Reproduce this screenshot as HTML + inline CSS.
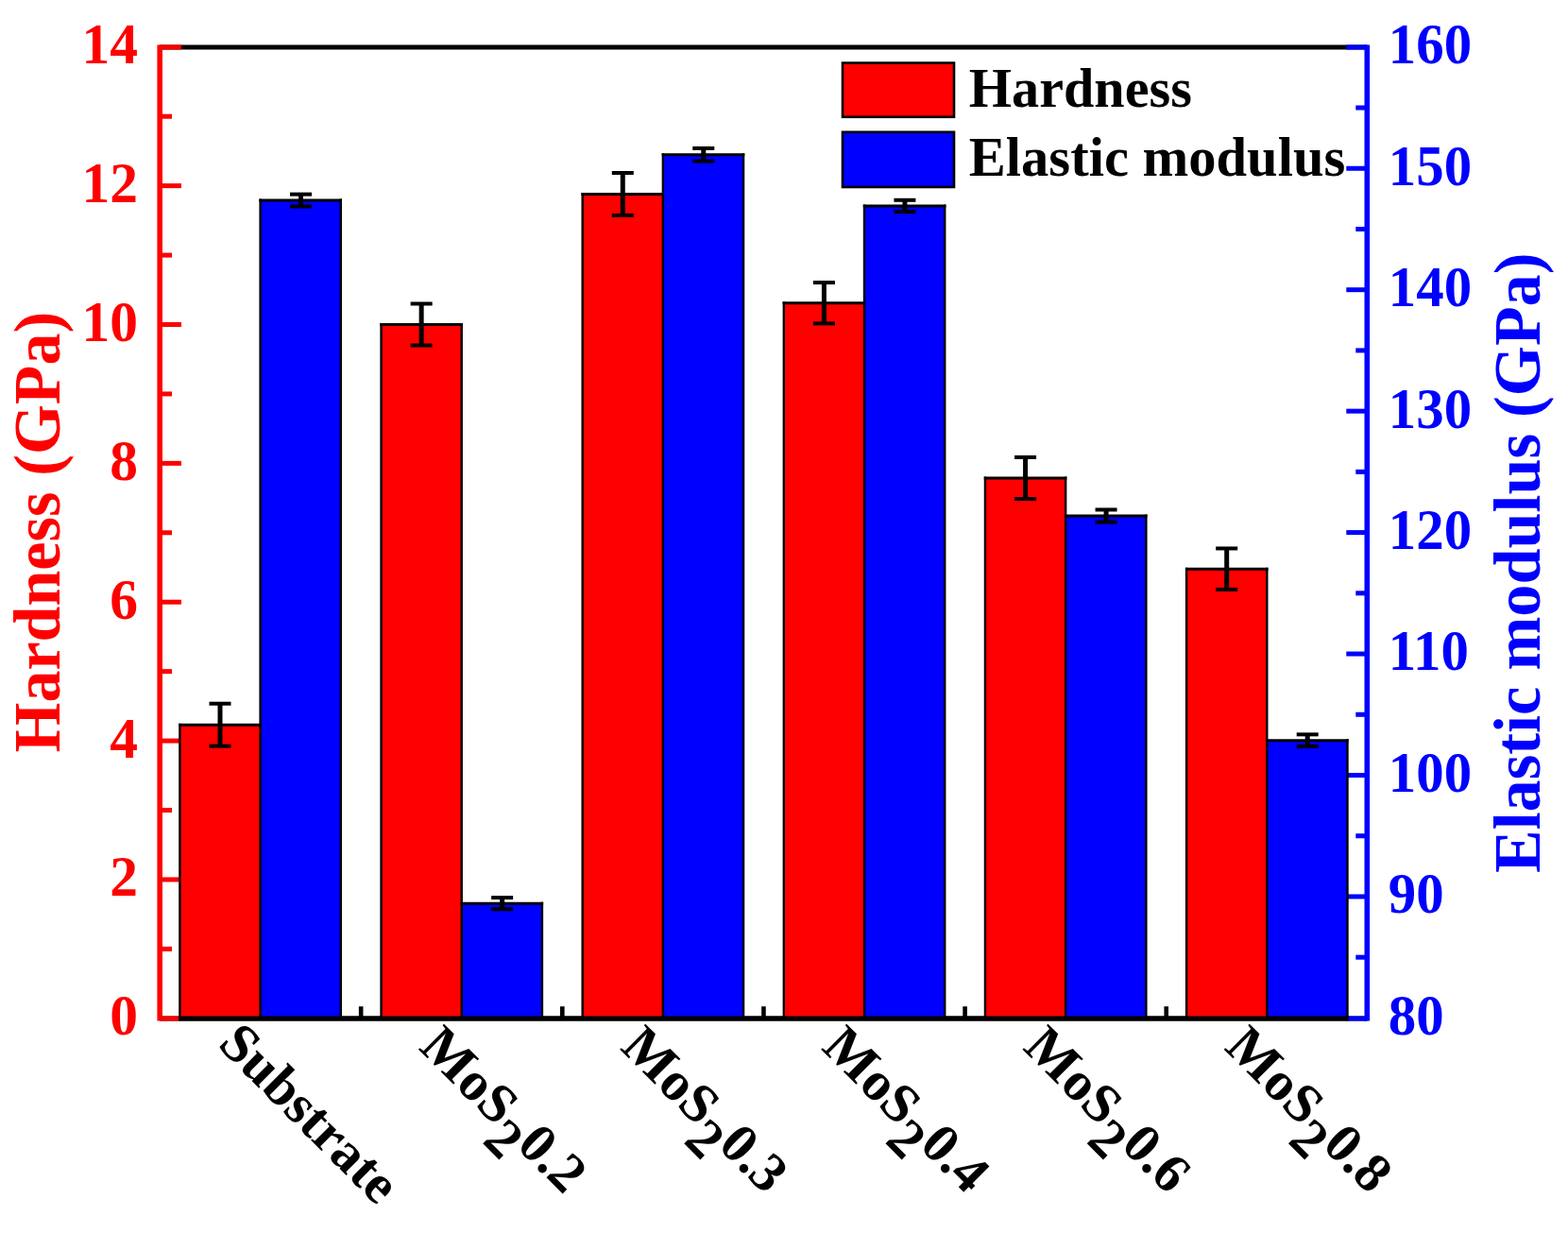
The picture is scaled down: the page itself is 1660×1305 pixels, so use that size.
<!DOCTYPE html>
<html lang="en"><head><meta charset="utf-8"><title>Hardness and elastic modulus</title>
<style>html,body{margin:0;padding:0;background:#fff;}body{width:1660px;height:1305px;overflow:hidden;}svg{display:block;}text{font-family:"Liberation Serif","DejaVu Serif",serif;font-weight:bold;}</style>
</head><body>
<svg width="1660" height="1305" viewBox="0 0 1660 1305" role="img" aria-label="Bar chart of hardness and elastic modulus">
<rect x="0" y="0" width="1660" height="1305" fill="#fff"/>
<g stroke="#000" stroke-width="5" fill="none">
<line x1="169.2" y1="50" x2="1447.3" y2="50"/>
<line x1="169.2" y1="1078" x2="1447.3" y2="1078"/>
</g>
<g stroke="#000" stroke-width="4.6" fill="none">
<line x1="382.17" y1="1065.2" x2="382.17" y2="1078"/>
<line x1="595.31" y1="1065.2" x2="595.31" y2="1078"/>
<line x1="808.45" y1="1065.2" x2="808.45" y2="1078"/>
<line x1="1021.59" y1="1065.2" x2="1021.59" y2="1078"/>
<line x1="1234.73" y1="1065.2" x2="1234.73" y2="1078"/>
</g>
<g stroke="#f00" fill="none">
<line x1="169.2" y1="47.5" x2="169.2" y2="1080.5" stroke-width="5.6"/>
<line x1="169.2" y1="1078" x2="192" y2="1078" stroke-width="5"/>
<line x1="169.2" y1="1004.37" x2="182" y2="1004.37" stroke-width="5"/>
<line x1="169.2" y1="930.94" x2="192" y2="930.94" stroke-width="5"/>
<line x1="169.2" y1="857.51" x2="182" y2="857.51" stroke-width="5"/>
<line x1="169.2" y1="784.08" x2="192" y2="784.08" stroke-width="5"/>
<line x1="169.2" y1="710.65" x2="182" y2="710.65" stroke-width="5"/>
<line x1="169.2" y1="637.22" x2="192" y2="637.22" stroke-width="5"/>
<line x1="169.2" y1="563.79" x2="182" y2="563.79" stroke-width="5"/>
<line x1="169.2" y1="490.36" x2="192" y2="490.36" stroke-width="5"/>
<line x1="169.2" y1="416.93" x2="182" y2="416.93" stroke-width="5"/>
<line x1="169.2" y1="343.5" x2="192" y2="343.5" stroke-width="5"/>
<line x1="169.2" y1="270.07" x2="182" y2="270.07" stroke-width="5"/>
<line x1="169.2" y1="196.64" x2="192" y2="196.64" stroke-width="5"/>
<line x1="169.2" y1="123.21" x2="182" y2="123.21" stroke-width="5"/>
<line x1="169.2" y1="50" x2="192" y2="50" stroke-width="5"/>
</g>
<g stroke="#00f" fill="none">
<line x1="1447.3" y1="47.5" x2="1447.3" y2="1080.5" stroke-width="5.6"/>
<line x1="1447.3" y1="1078" x2="1425.3" y2="1078" stroke-width="5"/>
<line x1="1447.3" y1="1013.17" x2="1435.3" y2="1013.17" stroke-width="5"/>
<line x1="1447.3" y1="948.95" x2="1425.3" y2="948.95" stroke-width="5"/>
<line x1="1447.3" y1="884.73" x2="1435.3" y2="884.73" stroke-width="5"/>
<line x1="1447.3" y1="820.5" x2="1425.3" y2="820.5" stroke-width="5"/>
<line x1="1447.3" y1="756.27" x2="1435.3" y2="756.27" stroke-width="5"/>
<line x1="1447.3" y1="692.05" x2="1425.3" y2="692.05" stroke-width="5"/>
<line x1="1447.3" y1="627.82" x2="1435.3" y2="627.82" stroke-width="5"/>
<line x1="1447.3" y1="563.6" x2="1425.3" y2="563.6" stroke-width="5"/>
<line x1="1447.3" y1="499.38" x2="1435.3" y2="499.38" stroke-width="5"/>
<line x1="1447.3" y1="435.15" x2="1425.3" y2="435.15" stroke-width="5"/>
<line x1="1447.3" y1="370.92" x2="1435.3" y2="370.92" stroke-width="5"/>
<line x1="1447.3" y1="306.7" x2="1425.3" y2="306.7" stroke-width="5"/>
<line x1="1447.3" y1="242.47" x2="1435.3" y2="242.47" stroke-width="5"/>
<line x1="1447.3" y1="178.25" x2="1425.3" y2="178.25" stroke-width="5"/>
<line x1="1447.3" y1="114.02" x2="1435.3" y2="114.02" stroke-width="5"/>
<line x1="1447.3" y1="50" x2="1425.3" y2="50" stroke-width="5"/>
</g>
<g><rect x="190.4" y="767.19" width="85.2" height="310.31" fill="#f00"/>
<rect x="275.6" y="212.05" width="85.2" height="865.45" fill="#00f"/>
<rect x="403.54" y="343.5" width="85.2" height="734" fill="#f00"/>
<rect x="488.74" y="956.16" width="85.2" height="121.34" fill="#00f"/>
<rect x="616.68" y="205.45" width="85.2" height="872.05" fill="#f00"/>
<rect x="701.88" y="163.75" width="85.2" height="913.75" fill="#00f"/>
<rect x="829.82" y="320.74" width="85.2" height="756.76" fill="#f00"/>
<rect x="915.02" y="217.96" width="85.2" height="859.54" fill="#00f"/>
<rect x="1042.96" y="506" width="85.2" height="571.5" fill="#f00"/>
<rect x="1128.16" y="546.02" width="85.2" height="531.48" fill="#00f"/>
<rect x="1256.1" y="602.19" width="85.2" height="475.31" fill="#f00"/>
<rect x="1341.3" y="783.65" width="85.2" height="293.85" fill="#00f"/></g>
<g stroke="#000" stroke-width="2.4" fill="none"><line x1="190.4" y1="765.69" x2="190.4" y2="1077.5"/>
<line x1="275.6" y1="210.55" x2="275.6" y2="1077.5"/>
<line x1="360.8" y1="210.55" x2="360.8" y2="1077.5"/>
<line x1="403.54" y1="342" x2="403.54" y2="1077.5"/>
<line x1="488.74" y1="342" x2="488.74" y2="1077.5"/>
<line x1="573.94" y1="954.66" x2="573.94" y2="1077.5"/>
<line x1="616.68" y1="203.95" x2="616.68" y2="1077.5"/>
<line x1="701.88" y1="162.25" x2="701.88" y2="1077.5"/>
<line x1="787.08" y1="162.25" x2="787.08" y2="1077.5"/>
<line x1="829.82" y1="319.24" x2="829.82" y2="1077.5"/>
<line x1="915.02" y1="216.46" x2="915.02" y2="1077.5"/>
<line x1="1000.22" y1="216.46" x2="1000.22" y2="1077.5"/>
<line x1="1042.96" y1="504.5" x2="1042.96" y2="1077.5"/>
<line x1="1128.16" y1="504.5" x2="1128.16" y2="1077.5"/>
<line x1="1213.36" y1="544.52" x2="1213.36" y2="1077.5"/>
<line x1="1256.1" y1="600.69" x2="1256.1" y2="1077.5"/>
<line x1="1341.3" y1="600.69" x2="1341.3" y2="1077.5"/>
<line x1="1426.5" y1="782.15" x2="1426.5" y2="1077.5"/></g>
<g stroke="#000" stroke-width="3" fill="none"><line x1="189.2" y1="767.19" x2="276.8" y2="767.19"/>
<line x1="274.4" y1="212.05" x2="362" y2="212.05"/>
<line x1="402.34" y1="343.5" x2="489.94" y2="343.5"/>
<line x1="487.54" y1="956.16" x2="575.14" y2="956.16"/>
<line x1="615.48" y1="205.45" x2="703.08" y2="205.45"/>
<line x1="700.68" y1="163.75" x2="788.28" y2="163.75"/>
<line x1="828.62" y1="320.74" x2="916.22" y2="320.74"/>
<line x1="913.82" y1="217.96" x2="1001.42" y2="217.96"/>
<line x1="1041.76" y1="506" x2="1129.36" y2="506"/>
<line x1="1126.96" y1="546.02" x2="1214.56" y2="546.02"/>
<line x1="1254.9" y1="602.19" x2="1342.5" y2="602.19"/>
<line x1="1340.1" y1="783.65" x2="1427.7" y2="783.65"/></g>
<line x1="189.2" y1="1078" x2="1427.7" y2="1078" stroke="#000" stroke-width="5"/>
<g stroke="#000" stroke-width="5" fill="none"><line x1="233" y1="744.72" x2="233" y2="789.66"/>
<line x1="318.5" y1="205.62" x2="318.5" y2="218.47"/>
<line x1="446.14" y1="321.47" x2="446.14" y2="365.53"/>
<line x1="531.64" y1="950.06" x2="531.64" y2="962.26"/>
<line x1="659.28" y1="182.98" x2="659.28" y2="227.92"/>
<line x1="744.78" y1="156.94" x2="744.78" y2="170.56"/>
<line x1="872.42" y1="299.07" x2="872.42" y2="342.4"/>
<line x1="957.92" y1="211.79" x2="957.92" y2="224.12"/>
<line x1="1085.56" y1="483.97" x2="1085.56" y2="528.03"/>
<line x1="1171.06" y1="539.47" x2="1171.06" y2="552.57"/>
<line x1="1298.7" y1="580.46" x2="1298.7" y2="623.93"/>
<line x1="1384.2" y1="777.36" x2="1384.2" y2="789.94"/></g>
<g stroke="#000" stroke-width="4" fill="none"><line x1="221.5" y1="744.72" x2="244.5" y2="744.72"/>
<line x1="221.5" y1="789.66" x2="244.5" y2="789.66"/>
<line x1="307" y1="205.62" x2="330" y2="205.62"/>
<line x1="307" y1="218.47" x2="330" y2="218.47"/>
<line x1="434.64" y1="321.47" x2="457.64" y2="321.47"/>
<line x1="434.64" y1="365.53" x2="457.64" y2="365.53"/>
<line x1="520.14" y1="950.06" x2="543.14" y2="950.06"/>
<line x1="520.14" y1="962.26" x2="543.14" y2="962.26"/>
<line x1="647.78" y1="182.98" x2="670.78" y2="182.98"/>
<line x1="647.78" y1="227.92" x2="670.78" y2="227.92"/>
<line x1="733.28" y1="156.94" x2="756.28" y2="156.94"/>
<line x1="733.28" y1="170.56" x2="756.28" y2="170.56"/>
<line x1="860.92" y1="299.07" x2="883.92" y2="299.07"/>
<line x1="860.92" y1="342.4" x2="883.92" y2="342.4"/>
<line x1="946.42" y1="211.79" x2="969.42" y2="211.79"/>
<line x1="946.42" y1="224.12" x2="969.42" y2="224.12"/>
<line x1="1074.06" y1="483.97" x2="1097.06" y2="483.97"/>
<line x1="1074.06" y1="528.03" x2="1097.06" y2="528.03"/>
<line x1="1159.56" y1="539.47" x2="1182.56" y2="539.47"/>
<line x1="1159.56" y1="552.57" x2="1182.56" y2="552.57"/>
<line x1="1287.2" y1="580.46" x2="1310.2" y2="580.46"/>
<line x1="1287.2" y1="623.93" x2="1310.2" y2="623.93"/>
<line x1="1372.7" y1="777.36" x2="1395.7" y2="777.36"/>
<line x1="1372.7" y1="789.94" x2="1395.7" y2="789.94"/></g>
<g stroke="#000" stroke-width="2.6">
<rect x="892" y="66.6" width="118" height="57.2" fill="#f00"/>
<rect x="892" y="139.8" width="118" height="58.2" fill="#00f"/>
</g>
<g font-size="59.2" fill="#000">
<text transform="translate(1025.8 113.3) scale(0.983 1)">Hardness</text>
<text transform="translate(1025.8 186.2) scale(0.989 1)">Elastic modulus</text>
</g>
<g font-size="61" fill="#f00" text-anchor="end">
<text transform="translate(146 1095.3) scale(0.975 1)">0</text>
<text transform="translate(146 948.44) scale(0.975 1)">2</text>
<text transform="translate(146 801.58) scale(0.975 1)">4</text>
<text transform="translate(146 654.72) scale(0.975 1)">6</text>
<text transform="translate(146 507.86) scale(0.975 1)">8</text>
<text transform="translate(146 361) scale(0.975 1)">10</text>
<text transform="translate(146 214.14) scale(0.975 1)">12</text>
<text transform="translate(146 67.28) scale(0.975 1)">14</text>
</g>
<g font-size="61" fill="#00f" text-anchor="start">
<text transform="translate(1469.8 1094.8) scale(0.965 1)">80</text>
<text transform="translate(1469.8 966.35) scale(0.965 1)">90</text>
<text transform="translate(1469.8 837.9) scale(0.965 1)">100</text>
<text transform="translate(1469.8 709.45) scale(0.965 1)">110</text>
<text transform="translate(1469.8 581) scale(0.965 1)">120</text>
<text transform="translate(1469.8 452.55) scale(0.965 1)">130</text>
<text transform="translate(1469.8 324.1) scale(0.965 1)">140</text>
<text transform="translate(1469.8 195.65) scale(0.965 1)">150</text>
<text transform="translate(1469.8 67.2) scale(0.965 1)">160</text>
</g>
<g font-size="69.4" text-anchor="middle">
<text transform="translate(63.2 563.2) rotate(-90) scale(0.98 1)" fill="#f00">Hardness (GPa)</text>
<text transform="translate(1630 595.7) rotate(-90) scale(0.9842 1)" fill="#00f">Elastic modulus (GPa)</text>
</g>
<g font-size="58.5" fill="#000">
<text transform="translate(229.2 1106.8) rotate(45)">Substrate</text>
<text transform="translate(442.2 1110.1) rotate(45)">MoS<tspan dy="22">2</tspan><tspan dy="-22">0.2</tspan></text>
<text transform="translate(655.4 1110.1) rotate(45)">MoS<tspan dy="22">2</tspan><tspan dy="-22">0.3</tspan></text>
<text transform="translate(868.6 1110.1) rotate(45)">MoS<tspan dy="22">2</tspan><tspan dy="-22">0.4</tspan></text>
<text transform="translate(1081.8 1110.1) rotate(45)">MoS<tspan dy="22">2</tspan><tspan dy="-22">0.6</tspan></text>
<text transform="translate(1295 1110.1) rotate(45)">MoS<tspan dy="22">2</tspan><tspan dy="-22">0.8</tspan></text>
</g>
</svg>
</body></html>
